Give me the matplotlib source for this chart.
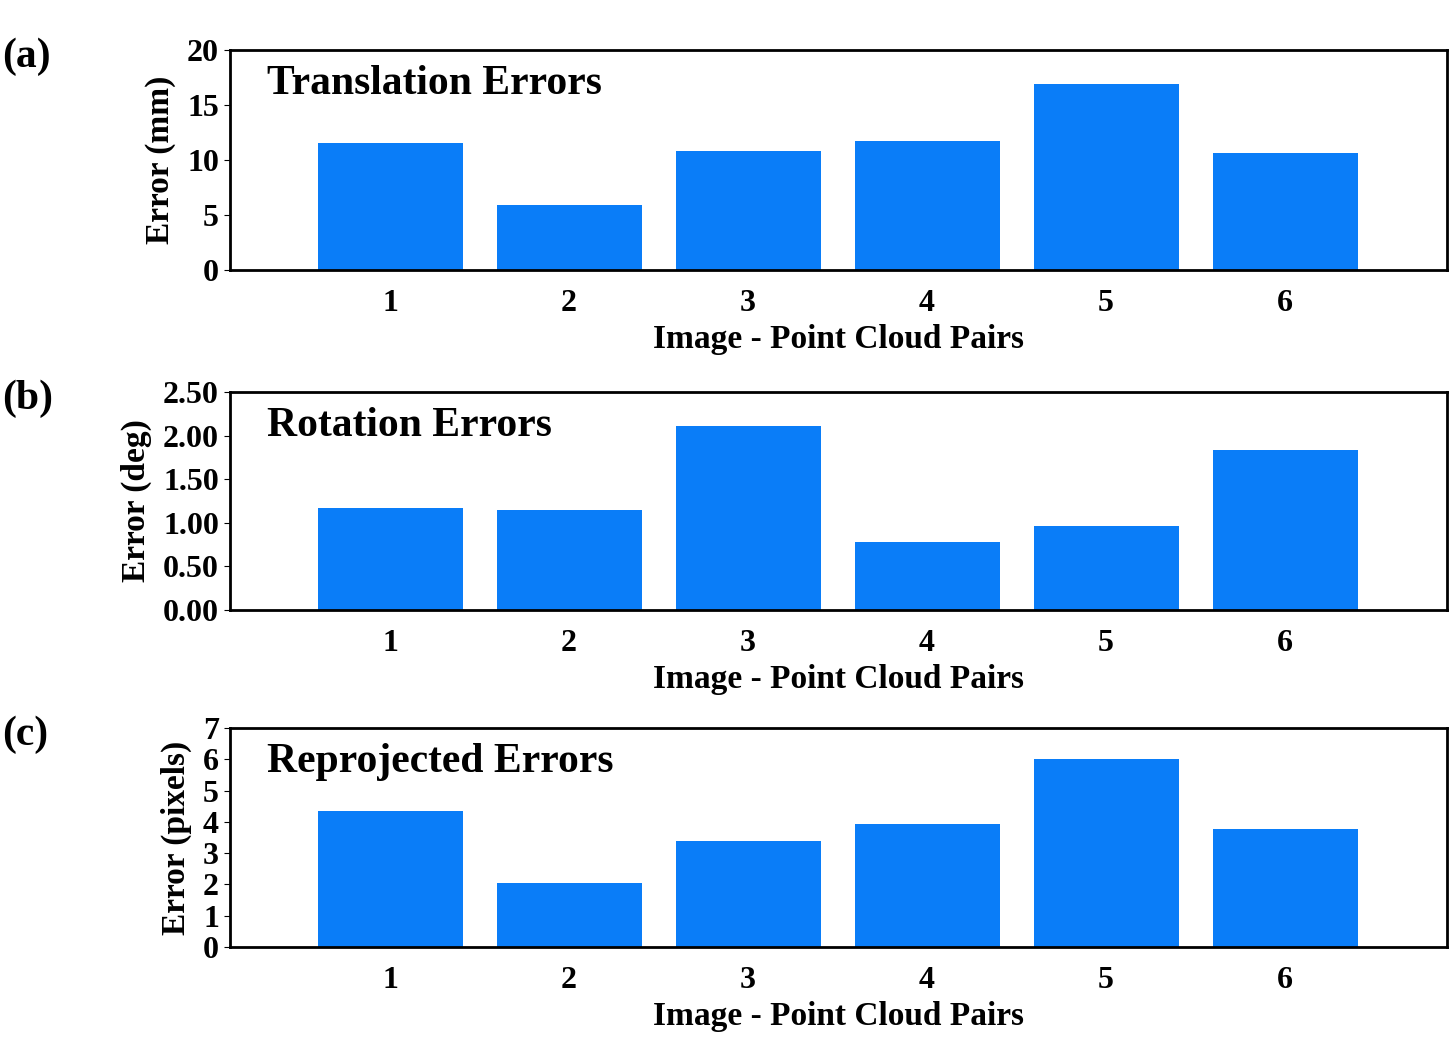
import matplotlib
matplotlib.use("Agg")
import matplotlib.pyplot as plt
import numpy as np

pairs = [1, 2, 3, 4, 5, 6]
translation_mm = [11.5, 5.9, 10.8, 11.7, 16.9, 10.6]
rotation_deg = [1.17, 1.15, 2.11, 0.78, 0.96, 1.83]
reproj_px = [4.35, 2.04, 3.39, 3.93, 6.0, 3.77]

plt.rcParams['font.family'] = ['Liberation Serif', 'DejaVu Serif']
plt.rcParams['font.weight'] = 'bold'

fig = plt.figure(figsize=(14.53, 10.52), dpi=100)
W, H = 1453, 1052
panels = [
    (translation_mm, 'Error (mm)', 'Translation Errors', '(a)', 50, 270, (0, 20), [0, 5, 10, 15, 20], '{:.0f}'),
    (rotation_deg, 'Error (deg)', 'Rotation Errors', '(b)', 392, 610, (0, 2.5), [0, 0.5, 1, 1.5, 2, 2.5], '{:.2f}'),
    (reproj_px, 'Error (pixels)', 'Reprojected Errors', '(c)', 728, 947, (0, 7), list(range(8)), '{:.0f}'),
]
for vals, ylab, title, tag, top, bot, ylim, yt, fmt in panels:
    ax = fig.add_axes([230 / W, 1 - bot / H, (1447 - 230) / W, (bot - top) / H])
    ax.bar(pairs, vals, width=0.81, color='#0A7DF8')
    ax.set_xlim(0.106, 6.905)
    ax.set_ylim(*ylim)
    ax.set_yticks(yt)
    ax.set_yticklabels([fmt.format(v) for v in yt])
    ax.set_xticks(pairs)
    ax.tick_params(axis='x', length=0, pad=14, labelsize=23)
    ax.tick_params(axis='y', length=4, labelsize=23, pad=4)
    for s in ax.spines.values():
        s.set_linewidth(2)
    ax.set_xlabel('Image - Point Cloud Pairs', fontsize=24, fontweight='bold', labelpad=4)
    ax.set_ylabel(ylab, fontsize=24, fontweight='bold', labelpad=8)
    ax.text(0.03, 0.93, title, transform=ax.transAxes, fontsize=30,
            fontweight='bold', va='top', ha='left')
    fig.text(2 / W, 1 - (top - 12) / H, tag, fontsize=30, fontweight='bold', va='top')

fig.savefig('out.png', dpi=100)
